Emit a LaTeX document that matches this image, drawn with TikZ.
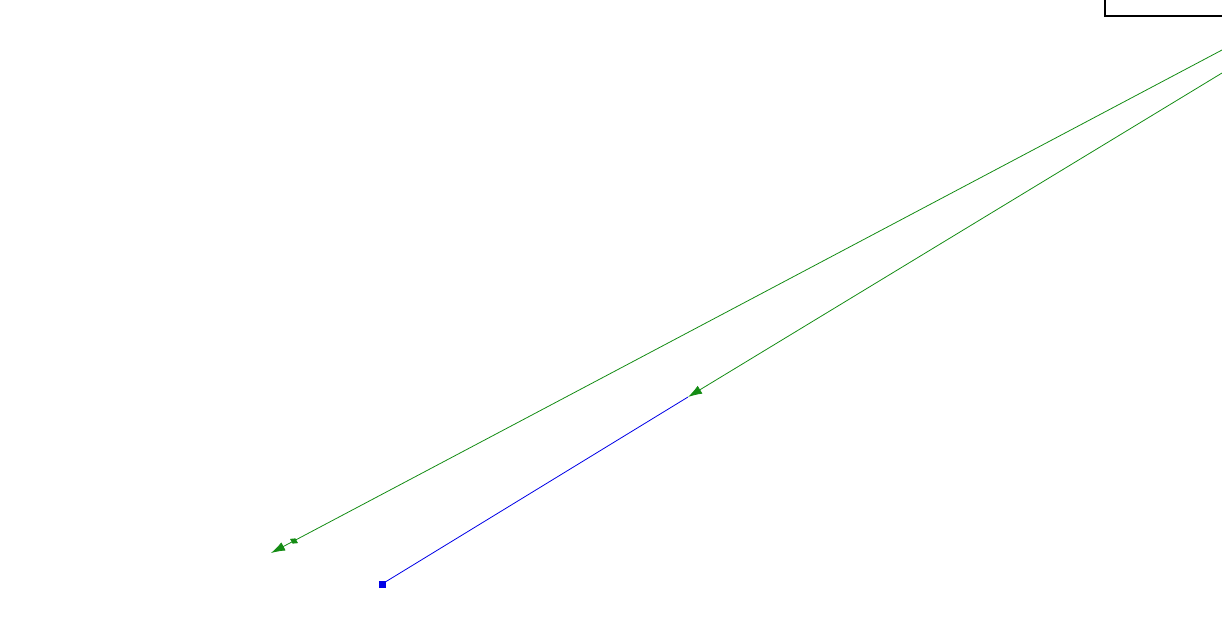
\documentclass[tikz,border=0pt]{standalone}
\usetikzlibrary{arrows.meta}
\definecolor{pathgreen}{RGB}{20,140,20}
\definecolor{pathblue}{RGB}{0,0,230}
\tikzset{
  seg/.style={line width=0.02cm},
  greenseg/.style={seg, draw=pathgreen, -{Latex[length=10pt,width=6.5pt]}},
}
\begin{document}
\begin{tikzpicture}[x=0.025cm,y=-0.025cm]
                    \useasboundingbox (0,0) rectangle (1222,627);
                    \clip (0,0) rectangle (1222,627);
                    
                    % Points
                    \coordinate (S1) at (1222,50);
                    \coordinate (E1) at (271,553);
                    \coordinate (M1) at (294,541);
                    \coordinate (S2) at (1222,73);
                    \coordinate (E2) at (688,397);
                    \coordinate (B) at (382,584);
                    
                    % Drawing box
                    \draw [line width=0.03cm] (1105,-5) rectangle (1240,16);%
                    
                    % Drawing segment S1 E1
                    \draw [greenseg] (S1) -- (E1);%
                    
                    % Marking point M1
                    \fill [pathgreen, rotate around={-28:(M1)}] (M1) ++(-4.5,0) -- ++(4.5,-3) -- ++(4.5,3) -- ++(-4.5,3) -- cycle;%
                    
                    % Drawing segment S2 E2
                    \draw [greenseg] (S2) -- (E2);%
                    
                    % Drawing segment E2 B
                    \draw [seg, draw=pathblue] (E2) -- (B);%
                    
                    % Marking point B by square
                    \fill [pathblue] (B) ++(-3.5,-3.5) rectangle ++(7,7);%
\end{tikzpicture}
\end{document}
